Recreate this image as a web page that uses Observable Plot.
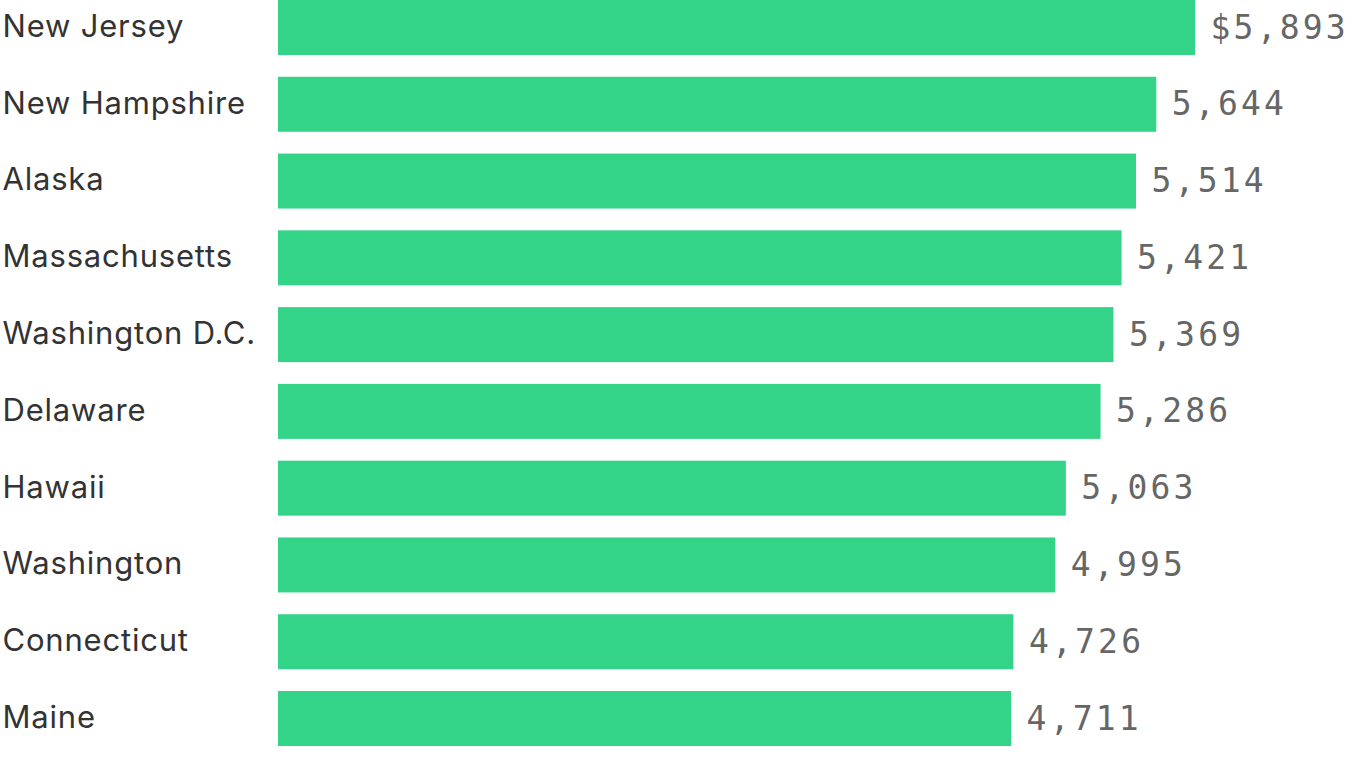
<!DOCTYPE html>
<html>
<head>
<meta charset="utf-8">
<script src="https://cdn.jsdelivr.net/npm/d3@7"></script>
<script src="https://cdn.jsdelivr.net/npm/@observablehq/plot@0.6"></script>
<style>
  html, body { margin: 0; padding: 0; background: #fff; }
  #chart svg { display: block; }
  #chart .names text { letter-spacing: 0.8px; }
  #chart .vals text { letter-spacing: 3.2px; }
</style>
</head>
<body>
<div id="chart"></div>
<script>
const states = ["New Jersey", "New Hampshire", "Alaska", "Massachusetts", "Washington D.C.", "Delaware", "Hawaii", "Washington", "Connecticut", "Maine"];
const values = [5893, 5644, 5514, 5421, 5369, 5286, 5063, 4995, 4726, 4711];

const data = states.map((s, i) => ({state: s, value: values[i], label: (i === 0 ? "$" : "") + d3.format(",")(values[i])}));

const chart = Plot.plot({
  width: 1366,
  height: 768,
  marginLeft: 278,
  marginRight: 171,
  marginTop: 0,
  marginBottom: 22,
  x: {domain: [0, 5893], axis: null},
  y: {domain: states, axis: null, paddingInner: 0.284, paddingOuter: 0, round: false},
  marks: [
    Plot.barX(data, {y: "state", x: "value", fill: "#33d388"}),
    Plot.text(data, {y: "state", text: "state", frameAnchor: "left", textAnchor: "start", dx: -276, dy: -1,
      fill: "#333", fontSize: 31, fontFamily: "Inter", className: "names"}),
    Plot.text(data, {y: "state", x: "value", text: "label", textAnchor: "start", dx: 15,
      fill: "#666", fontSize: 33, fontFamily: "DejaVu Sans Mono", className: "vals"})
  ]
});
document.getElementById("chart").appendChild(chart);
</script>
</body>
</html>
